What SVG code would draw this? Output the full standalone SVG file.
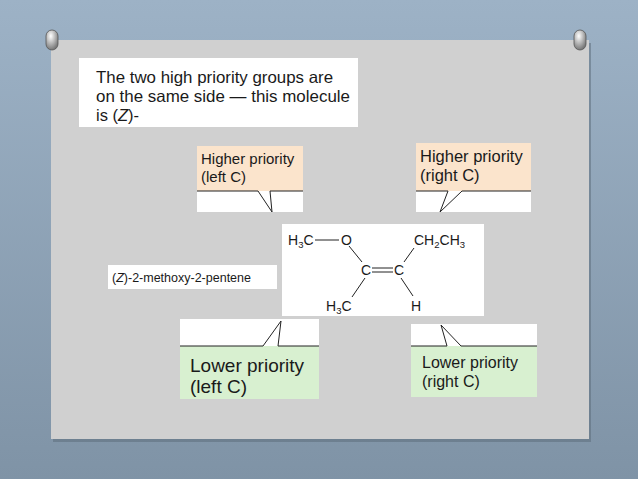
<svg xmlns="http://www.w3.org/2000/svg" width="638" height="479" viewBox="0 0 638 479">
<defs>
<style>
text{font-family:"Liberation Sans",Arial,sans-serif;fill:#1a1a1a}
.b{stroke:#222;stroke-width:1;fill:none}
.t{fill:#fff;stroke:#222;stroke-width:1}
</style>
<linearGradient id="bg" x1="0" y1="0" x2="0" y2="1"><stop offset="0" stop-color="#9db2c6"/><stop offset="1" stop-color="#7f93a6"/></linearGradient>
<radialGradient id="pin" cx="0.4" cy="0.3" r="0.7"><stop offset="0" stop-color="#fff"/><stop offset="1" stop-color="#777"/></radialGradient>
</defs>
<rect width="638" height="479" fill="url(#bg)"/>
<rect x="53" y="43" width="538" height="399" fill="#5a6a78" opacity="0.5"/>
<rect x="51" y="40" width="538" height="399" fill="#d0d0d0"/>
<g id="pins">
<rect x="46" y="30" width="12" height="20" rx="6" fill="url(#pin)" stroke="#555" stroke-width="0.8"/>
<rect x="574" y="30" width="12" height="20" rx="6" fill="url(#pin)" stroke="#555" stroke-width="0.8"/>
</g>
<g id="note">
<rect x="79" y="58" width="279" height="69" fill="#fff"/>
<text font-size="16.5" x="96" y="83" textLength="237" lengthAdjust="spacingAndGlyphs">The two high priority groups are</text>
<text font-size="16.5" x="96" y="102" textLength="254" lengthAdjust="spacingAndGlyphs">on the same side — this molecule</text>
<text font-size="16.5" x="96" y="121">is (<tspan font-style="italic">Z</tspan>)-</text>
</g>
<g id="name">
<rect x="108" y="265" width="169" height="24" fill="#fff"/>
<text font-size="12.5" x="112" y="282">(<tspan font-style="italic">Z</tspan>)-2-methoxy-2-pentene</text>
</g>
<g id="molecule">
<rect x="282" y="224" width="202" height="92" fill="#fff"/>
<g font-size="14">
<text x="288" y="245">H<tspan font-size="9.5" dy="3">3</tspan><tspan dy="-3">C</tspan></text>
<text x="341" y="245">O</text>
<text x="414" y="245">CH<tspan font-size="9.5" dy="3">2</tspan><tspan dy="-3">CH</tspan><tspan font-size="9.5" dy="3">3</tspan></text>
<text x="361" y="275">C</text>
<text x="394" y="275">C</text>
<text x="326" y="311">H<tspan font-size="9.5" dy="3">3</tspan><tspan dy="-3">C</tspan></text>
<text x="411" y="311">H</text>
</g>
<g class="b">
<line x1="315" y1="240" x2="339" y2="240"/>
<line x1="349" y1="246" x2="362" y2="262"/>
<line x1="404" y1="262" x2="414" y2="248"/>
<line x1="372" y1="268" x2="393" y2="268"/>
<line x1="372" y1="272" x2="393" y2="272"/>
<line x1="365" y1="278" x2="352" y2="297"/>
<line x1="401" y1="278" x2="413" y2="296"/>
</g>
</g>
<g id="hi-left">
<rect x="197" y="146" width="106" height="66" fill="#fff"/>
<rect x="197" y="146" width="106" height="45" fill="#fbe4cc"/>
<path d="M197 191H258L272 212L270 191H303" class="t"/>
<text font-size="15" x="201" y="164">Higher priority</text>
<text font-size="15" x="201" y="182">(left C)</text>
</g>
<g id="hi-right">
<rect x="416" y="143" width="115" height="69" fill="#fff"/>
<rect x="416" y="143" width="115" height="48" fill="#fbe4cc"/>
<path d="M416 191H448L440 212L462 191H531" class="t"/>
<text font-size="16.5" x="420" y="162">Higher priority</text>
<text font-size="16.5" x="420" y="181">(right C)</text>
</g>
<g id="lo-left">
<rect x="180" y="319" width="139" height="80" fill="#fff"/>
<rect x="180" y="346" width="139" height="53" fill="#d8f0d0"/>
<path d="M180 346H263L281 321L278 346H319" class="t"/>
<text font-size="19" x="190" y="372">Lower priority</text>
<text font-size="19" x="190" y="393">(left C)</text>
</g>
<g id="lo-right">
<rect x="411" y="324" width="126" height="73" fill="#fff"/>
<rect x="411" y="346" width="126" height="51" fill="#d8f0d0"/>
<path d="M411 346H447L441 325L461 346H537" class="t"/>
<text font-size="16" x="422" y="368">Lower priority</text>
<text font-size="16" x="422" y="387">(right C)</text>
</g>
</svg>
